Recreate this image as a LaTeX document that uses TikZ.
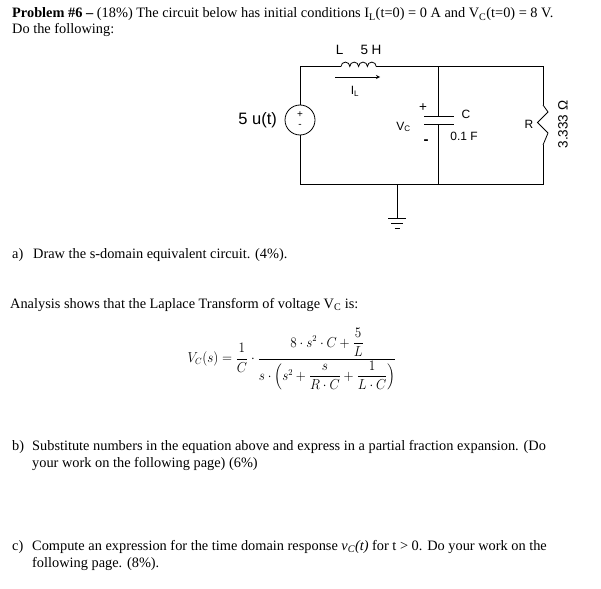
\documentclass[tikz,border=0pt]{standalone}
\usepackage{fontspec}
\usepackage{amsmath}
\setmainfont{Liberation Serif}
\newfontfamily\circfont{Liberation Sans}
\usetikzlibrary{positioning,backgrounds}
\tikzstyle{wire} = [line width=0.8pt]
\begin{document}
\begin{tikzpicture}[
    x=1pt, y=-1pt,
    txt/.style={anchor=base west, inner sep=0pt, font=\fontsize{14.35}{16}\selectfont},
    lbl/.style={inner sep=0pt, font=\fontsize{13.5}{15}\selectfont\circfont},
    lblsmall/.style={inner sep=0pt, font=\fontsize{12}{14}\selectfont\circfont},
    signs/.style={inner sep=0pt, font=\fontsize{10}{10}\selectfont\circfont},
    source/.style={circle, draw=black, line width=0.8pt, minimum size=30pt, inner sep=0pt, fill=white},
    node distance=10pt
]
\useasboundingbox (0,0) rectangle (601,588);

% Text lines
\node (head) [txt] at (12,18) {\textbf{Problem \#6 --} (18\%) The circuit below has initial conditions I\textsubscript{L}(t=0) = 0 A and V\textsubscript{C}(t=0) = 8 V.};
\node (headb) [txt] at (12,34) {Do the following:};
\node (parta) [txt] at (12,258) {\makebox[21pt][l]{a)}Draw the s-domain equivalent circuit. (4\%).};
\node (analysis) [txt] at (10,308) {Analysis shows that the Laplace Transform of voltage V\textsubscript{C} is:};
\node (partb) [txt] at (12,450) {\makebox[20pt][l]{b)}Substitute numbers in the equation above and express in a partial fraction expansion. (Do};
\node (partbb) [txt] at (32,467) {your work on the following page) (6\%)};
\node (partc) [txt] at (12,550) {\makebox[20pt][l]{c)}Compute an expression for the time domain response \textit{v\textsubscript{C}(t)} for t > 0. Do your work on the};
\node (partcc) [txt] at (32,567) {following page. (8\%).};

% Equation
\node (eqn) [inner sep=0pt, font=\fontsize{13.4}{15}\selectfont] at (292,359) {\scalebox{0.916}[1]{$\displaystyle V_C(s)=\frac{1}{C}\cdot\frac{8\cdot s^2\cdot C+\dfrac{5}{L}}{s\cdot\Bigl(s^2+\dfrac{s}{R\cdot C}+\dfrac{1}{L\cdot C}\Bigr)}$}};

% Corners and junctions
\coordinate (tl) at (300,66.5);
\coordinate (tr) at (543,66.5);
\coordinate (bl) at (300,184);
\coordinate (br) at (543,184);
\coordinate (tm) at (438,66.5);
\coordinate (bm) at (438,184);
\coordinate (gtop) at (397,184);
\coordinate (gnd) at (397,218);
\coordinate (lin) at (341,66.5);
\coordinate (lout) at (376,66.5);
\coordinate (cup) at (438,116);
\coordinate (clow) at (438,124.5);
\coordinate (rup) at (543,105);
\coordinate (rlow) at (543,145);

% Wires
\begin{scope}[on background layer]
\draw [wire] (lin) -- (tl) -- (bl) -- (br) -- (rlow);
\draw [wire] (lout) -- (tr) -- (rup);
\draw [wire] (tm) -- (cup);
\draw [wire] (clow) -- (bm);
\draw [wire] (gtop) -- (gnd);
\end{scope}

% Source
\node (src) [source] at (300,120) {};
\node (srcp) [signs] at (300,115) {+};
\node (srcm) [signs] at (300,125.5) {-};
\node (srclbl) [lbl, left=7.5pt of src, font=\fontsize{16.5}{18}\selectfont\circfont] {5 u(t)};

% Inductor
\draw [wire] (lin) arc[start angle=180, end angle=0, radius=4.4pt]
  arc[start angle=180, end angle=0, radius=4.4pt]
  arc[start angle=180, end angle=0, radius=4.4pt]
  arc[start angle=180, end angle=0, radius=4.4pt];
\node (llbl) [lbl] at (339.5,50) {L};
\node (lval) [lbl] at (371,50) {5 H};
\coordinate (ia) at (335,77);
\coordinate (ib) at (380,77);
\draw [wire, ->, >=stealth] (ia) -- (ib);
\node (il) [lblsmall] at (355,91) {I\textsubscript{L}};

% Capacitor
\draw [wire] (424,116) -- (454,116);
\draw [wire] (424,124.5) -- (454,124.5);
\node (cpl) [lbl] at (423,108) {+};
\node (cmi) [lbl, font=\fontsize{15}{15}\selectfont\bfseries\circfont] at (426,142) {-};
\node (vc) [lblsmall] at (403.5,127) {V\textsubscript{C}};
\node (clbl) [lblsmall] at (466,114) {C};
\node (cval) [lblsmall] at (464,136) {0.1 F};

% Resistor
\draw [wire] (rup) -- (548,112) -- (537.5,122.5) -- (548,133) -- (rlow);
\node (rlbl) [lblsmall] at (529,124) {R};
\node (rval) [lbl, rotate=90] at (563,124.5) {3.333 Ω};

% Ground
\draw [wire] (388,218) -- (406,218);
\draw [wire] (391,223) -- (403,223);
\draw [wire] (394.5,228) -- (399.5,228);
\end{tikzpicture}
\end{document}
